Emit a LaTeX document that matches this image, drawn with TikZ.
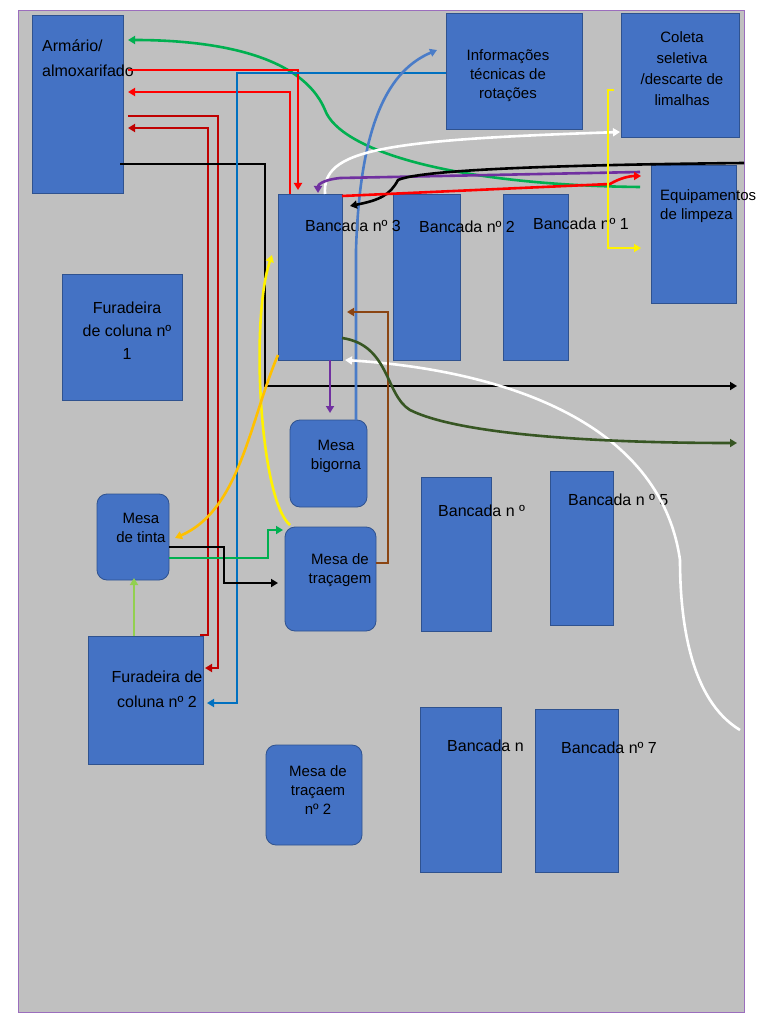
\documentclass[tikz,border=0pt]{standalone}
\usepackage{fontspec}
\setmainfont{Liberation Sans}
\usetikzlibrary{arrows.meta}
\definecolor{bg}{HTML}{C0C0C0}
\definecolor{boxblue}{HTML}{4472C4}
\definecolor{boxedge}{HTML}{2F528F}
\definecolor{dred}{HTML}{C00000}
\definecolor{lgreen}{HTML}{92D050}
\definecolor{dgreen}{HTML}{375623}
\definecolor{mgreen}{HTML}{00B050}
\definecolor{brownish}{HTML}{8B4513}
\definecolor{orng}{HTML}{FFC000}
\definecolor{purp}{HTML}{7030A0}
\definecolor{lblue}{HTML}{4A7CC8}
\definecolor{mblue}{HTML}{0070C0}
\begin{document}
\begin{tikzpicture}[x=1pt,y=-1pt,
  box/.style={fill=boxblue,draw=boxedge,line width=0.8pt},
  rbox/.style={box,rounded corners=10pt},
  lbl/.style={font=\fontsize{15}{19}\selectfont,align=center,inner sep=0pt},
  llbl/.style={lbl,anchor=west,align=left},
  flow/.style={line width=2.6pt,-{Triangle[length=7pt,width=8pt]}},
  line/.style={line width=2.6pt}]
\useasboundingbox (0,0) rectangle (768,1024);
\fill[white] (0,0) rectangle (768,1024);
\draw[fill=bg,draw=purp!70,line width=0.6pt] (18,10) rectangle (744,1012);
% boxes
\draw[box] (32,15) rectangle (123,193);
\draw[box] (446,13) rectangle (582,129);
\draw[box] (621,13) rectangle (739,137);
\draw[box] (651,165) rectangle (736,303);
\draw[box] (278,194) rectangle (342,360);
\draw[box] (393,194) rectangle (460,360);
\draw[box] (503,194) rectangle (568,360);
\draw[box] (62,274) rectangle (182,400);
\draw[rbox] (290,420) rectangle (367,507);
\draw[rbox] (97,494) rectangle (169,580);
\draw[rbox] (285,527) rectangle (376,631);
\draw[box] (421,477) rectangle (491,631);
\draw[box] (88,636) rectangle (203,764);
\draw[rbox] (266,745) rectangle (362,845);
\draw[box] (420,707) rectangle (501,872);
% labels
\node[llbl,font=\fontsize{16}{25}\selectfont] (arm) at (42,58) {Armário/\\almoxarifado};
\node[lbl] (info) at (508,76) {Informações\\técnicas de\\rotações};
\node[lbl,font=\fontsize{15}{21}\selectfont] (col) at (682,69) {Coleta\\seletiva\\/descarte de\\limalhas};
\node[llbl] (equip) at (660,206) {Equipamentos\\de limpeza};
\node[llbl,font=\fontsize{16}{19}\selectfont] (b3) at (305,226) {Bancada nº 3};
\node[llbl,font=\fontsize{16}{19}\selectfont] (b2) at (419,227) {Bancada nº 2};
\node[llbl,font=\fontsize{16}{19}\selectfont] (b1) at (533,224) {Bancada nº 1};
\node[lbl,font=\fontsize{16}{23}\selectfont] (f1) at (127,331) {Furadeira\\de coluna nº\\1};
\node[lbl] (big) at (336,456) {Mesa\\bigorna};
\node[lbl] (tin) at (141,528) {Mesa\\de tinta};
\node[lbl] (trac) at (340,570) {Mesa de\\traçagem};
\node[llbl,font=\fontsize{16}{19}\selectfont] (b4) at (438,511) {Bancada n º};
\draw[box] (550,471) rectangle (613,625);
\node[llbl,font=\fontsize{16}{19}\selectfont] (b5) at (568,500) {Bancada n º 5};
\node[lbl,font=\fontsize{16}{25}\selectfont] (f2) at (157,689) {Furadeira de\\coluna nº 2};
\node[lbl] (trac2) at (318,790) {Mesa de\\traçaem\\nº 2};
\node[llbl,font=\fontsize{16}{19}\selectfont] (b6) at (447,746) {Bancada n};
\draw[box] (535,709) rectangle (618,872);
\node[llbl,font=\fontsize{16}{19}\selectfont] (b7) at (561,748) {Bancada nº 7};
% flows
\draw[flow,mgreen] (640,187) .. controls (450,185) and (340,150) .. (325,110) .. controls (300,50) and (200,40) .. (128,40);
\draw[flow,red] (128,70) -- (298,70) -- (298,190);
\draw[flow,red] (290,194) -- (290,92) -- (128,92);
\draw[flow,dred] (128,116) -- (218,116) -- (218,668) -- (205,668);
\draw[flow,dred] (200,635) -- (208,635) -- (208,128) -- (128,128);
\draw[flow,black] (120,164) -- (265,164) -- (265,386) -- (737,386);
\draw[flow,mblue] (446,73) -- (237,73) -- (237,703) -- (207,703);
\draw[flow,lblue] (356,420) -- (356,250) .. controls (360,120) and (390,70) .. (437,50);
\draw[flow,white] (325,194) .. controls (322,150) and (380,140) .. (620,132);
\draw[flow,white] (740,730) .. controls (690,700) and (680,620) .. (680,560) .. controls (660,420) and (500,370) .. (345,360);
\draw[flow,purp] (640,172) -- (340,178) .. controls (322,180) and (318,185) .. (318,193);
\draw[flow,purp] (330,360) -- (330,413);
\draw[flow,black] (744,163) .. controls (550,165) and (420,170) .. (398,180) .. controls (390,195) and (380,200) .. (350,206);
\draw[flow,red] (342,196) -- (610,184) .. controls (620,178) and (630,176) .. (641,176);
\draw[flow,yellow] (614,90) -- (608,90) -- (608,248) -- (641,248);
\draw[flow,yellow] (290,525) .. controls (260,500) and (250,320) .. (272,255);
\draw[flow,orng] (278,355) .. controls (250,420) and (240,510) .. (175,538);
\draw[flow,mgreen] (169,558) -- (268,558) -- (268,530) -- (283,530);
\draw[flow,black] (169,547) -- (224,547) -- (224,583) -- (278,583);
\draw[flow,lgreen] (134,636) -- (134,578);
\draw[flow,brownish] (376,563) -- (388,563) -- (388,312) -- (347,312);
\draw[flow,dgreen] (342,338) .. controls (390,345) and (385,395) .. (410,410) .. controls (460,435) and (600,443) .. (737,443);
\end{tikzpicture}
\end{document}
